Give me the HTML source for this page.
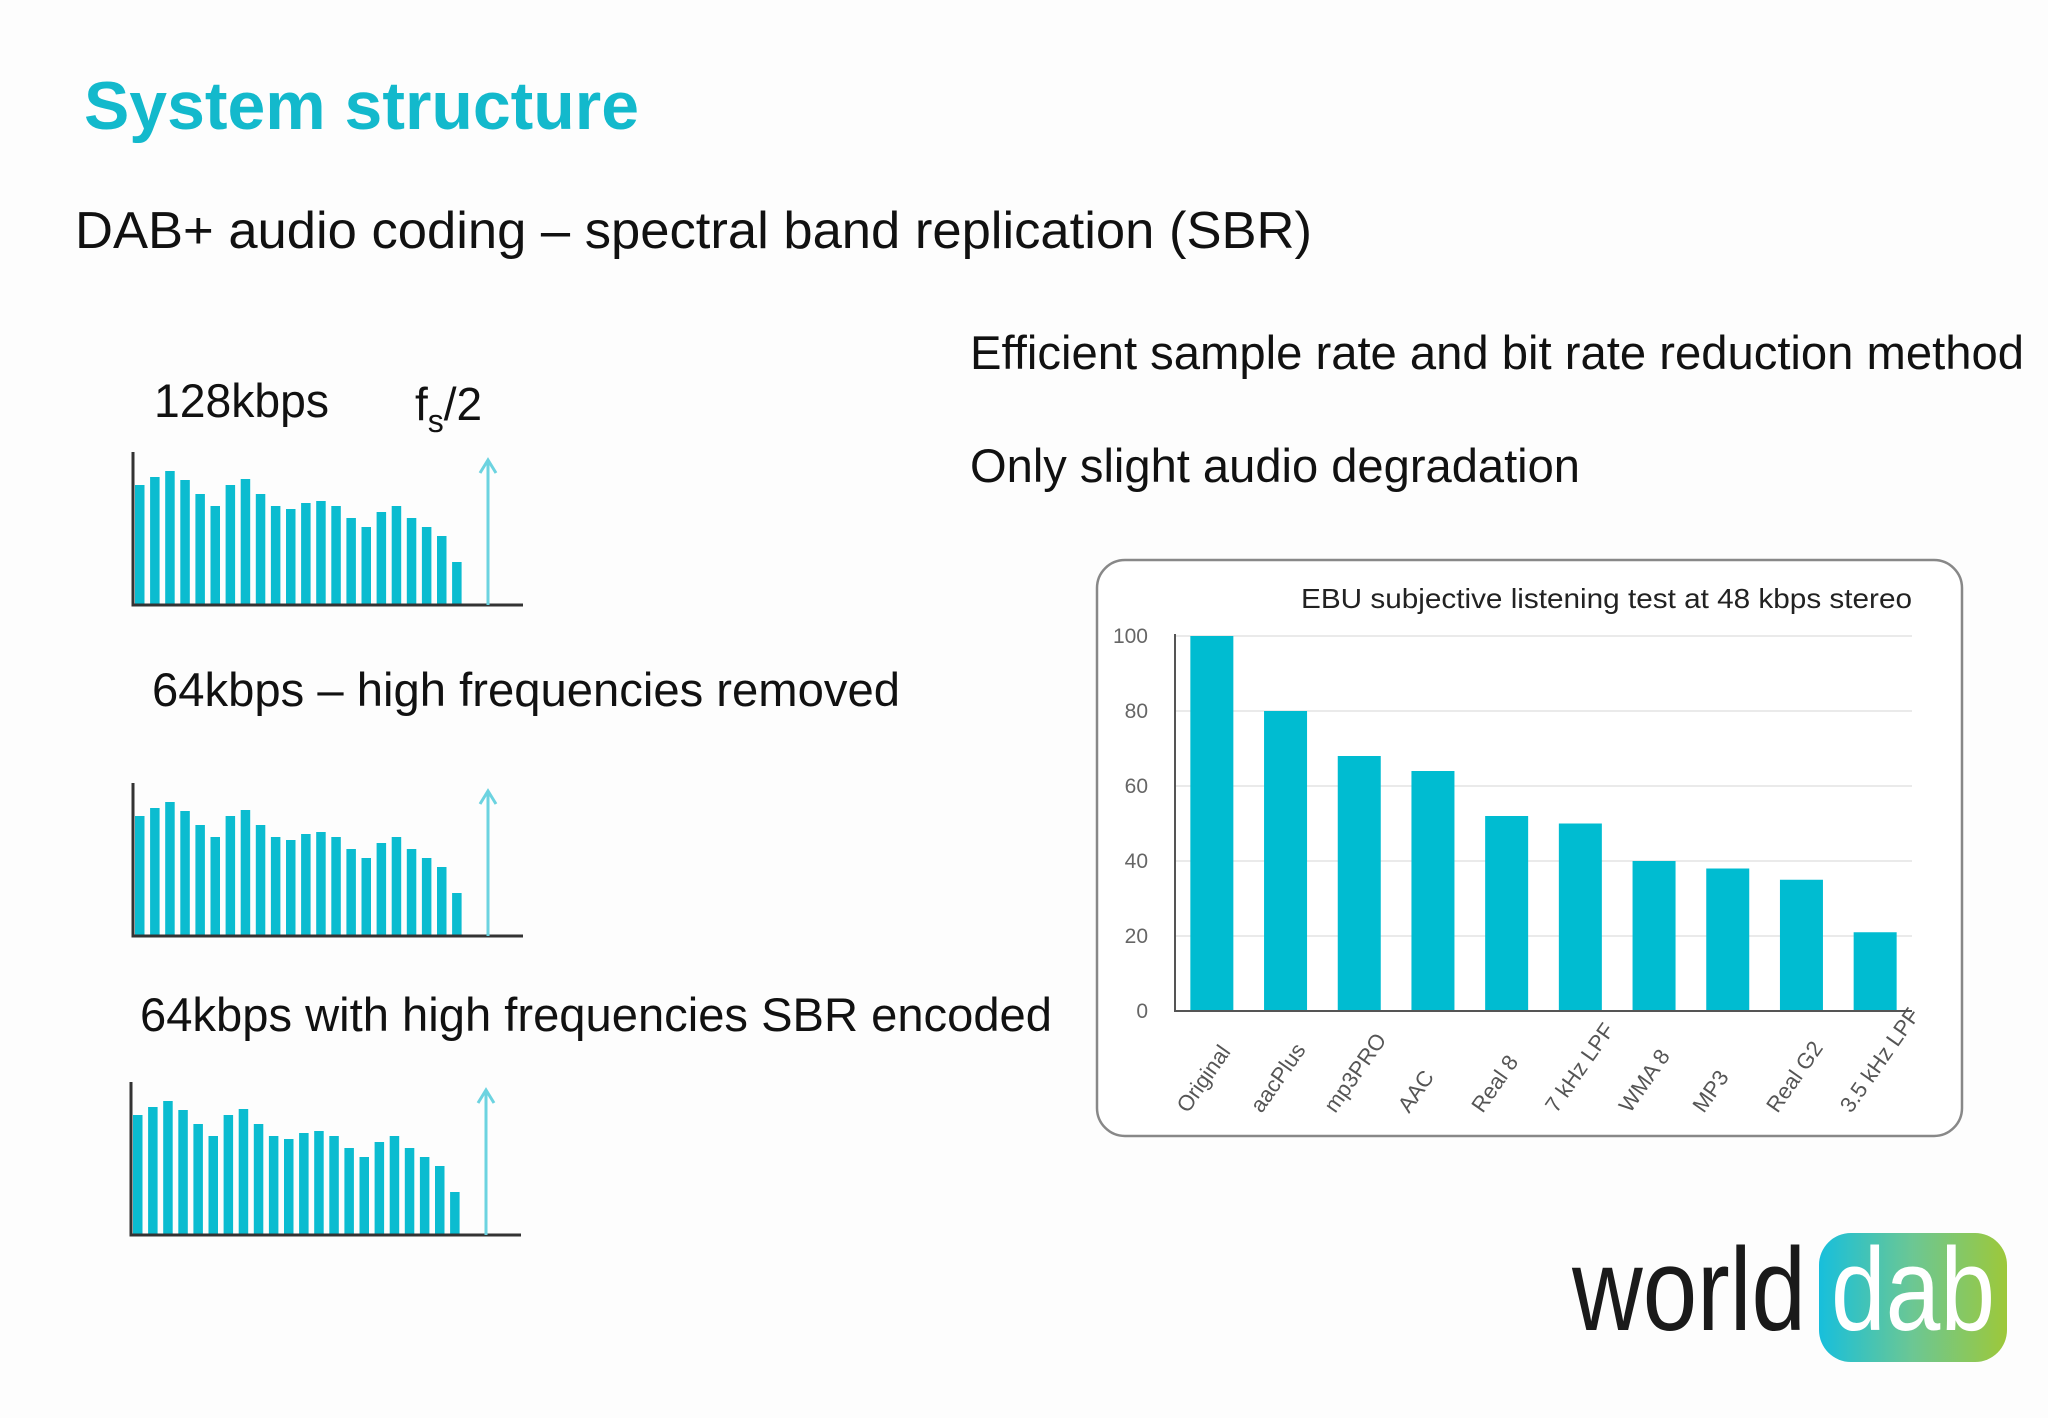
<!DOCTYPE html>
<html><head><meta charset="utf-8"><style>
html,body{margin:0;padding:0;background:#fdfdfd;}
svg{display:block;font-family:"Liberation Sans",sans-serif;}
</style></head><body>
<svg width="2048" height="1418" viewBox="0 0 2048 1418" xmlns="http://www.w3.org/2000/svg">
<rect width="2048" height="1418" fill="#fdfdfd"/>
<text x="84" y="129" font-size="68" font-weight="bold" fill="#13b9cc" textLength="555" lengthAdjust="spacingAndGlyphs">System structure</text>
<text x="75" y="248" font-size="52" fill="#111" textLength="1237" lengthAdjust="spacingAndGlyphs">DAB+ audio coding – spectral band replication (SBR)</text>
<text x="970" y="369" font-size="47" fill="#111" textLength="1054" lengthAdjust="spacingAndGlyphs">Efficient sample rate and bit rate reduction method</text>
<text x="970" y="482" font-size="47" fill="#111" textLength="610" lengthAdjust="spacingAndGlyphs">Only slight audio degradation</text>
<text x="154" y="417" font-size="47" fill="#111" textLength="175" lengthAdjust="spacingAndGlyphs">128kbps</text>
<text x="415" y="420" font-size="46" fill="#111">f<tspan font-size="32" dy="12">s</tspan><tspan dy="-12">/2</tspan></text>
<text x="152" y="706" font-size="47" fill="#111" textLength="748" lengthAdjust="spacingAndGlyphs">64kbps – high frequencies removed</text>
<text x="140" y="1031" font-size="47" fill="#111" textLength="912" lengthAdjust="spacingAndGlyphs">64kbps with high frequencies SBR encoded</text>
<g id="spectra"></g>
<g id="chart">
<rect x="1097" y="560" width="865" height="576" rx="28" fill="#fff" stroke="#888" stroke-width="2.5"/>
<text x="1912" y="608" font-size="28" text-anchor="end" fill="#222" textLength="611" lengthAdjust="spacingAndGlyphs">EBU subjective listening test at 48 kbps stereo</text>
</g>
<g>
<text x="1572" y="1330" font-size="118" fill="#1a1a1a" textLength="234" lengthAdjust="spacingAndGlyphs">world</text>
<defs><linearGradient id="lg" x1="0" x2="1"><stop offset="0" stop-color="#17bfdc"/><stop offset="0.5" stop-color="#6cc793"/><stop offset="1" stop-color="#9dc83a"/></linearGradient></defs>
<rect x="1819" y="1233" width="188" height="129" rx="32" fill="url(#lg)"/>
<text x="1913" y="1330" font-size="118" fill="#fff" text-anchor="middle" textLength="164" lengthAdjust="spacingAndGlyphs">dab</text>
</g>
</svg>
<script>
const specHeights=[120,128,134,125,111,99,120,126,111,99,96,102,104,99,87,78,93,99,87,78,69,43];
const categories=["Original","aacPlus","mp3PRO","AAC","Real 8","7 kHz LPF","WMA 8","MP3","Real G2","3.5 kHz LPF"];
const scores=[100,80,68,64,52,50,40,38,35,21];
const yTicks=[0,20,40,60,80,100];
const NS="http://www.w3.org/2000/svg";
function mk(tag,attrs,parent){const e=document.createElementNS(NS,tag);for(const k in attrs)e.setAttribute(k,attrs[k]);parent.appendChild(e);return e;}
const sp=document.getElementById('spectra');
const specBases=[[133,605],[133,936],[131,1235]];
specBases.forEach((b,si)=>{
  const g=mk('g',{},sp);
  
  
  specHeights.forEach((h,i)=>{
    const r=mk('rect',{x:b[0]+2+i*15.1,y:b[1]-h,width:9.5,height:h,fill:'#0bbcd0'},g);
    
    
  });
  const ax=mk('path',{d:`M${b[0]} ${b[1]-153}V${b[1]}H${b[0]+390}`,stroke:'#333',fill:'none','stroke-width':3},g);
  
  
  const ar=mk('path',{d:`M${b[0]+355} ${b[1]}V${b[1]-145}M${b[0]+347} ${b[1]-132}L${b[0]+355} ${b[1]-145}L${b[0]+363} ${b[1]-132}`,stroke:'#6cd3e0',fill:'none','stroke-width':3},g);
  
  
});
const ch=document.getElementById('chart');
const x0=1175,x1=1912,yb=1011,yt=636;
const yS=v=>yb-(v/100)*(yb-yt);
const step=(x1-x0)/categories.length;
const xC=i=>x0+step*(i+0.5);
yTicks.forEach(t=>{
  if(t>0){const l=mk('line',{x1:x0,x2:x1,y1:yS(t),y2:yS(t),stroke:'#e4e4e4','stroke-width':1.5},ch);
  
  }
  const tx=mk('text',{x:1148,y:yS(t)+7,'font-size':21,fill:'#666','text-anchor':'end'},ch);
  tx.textContent=t;
  
  
});
scores.forEach((v,i)=>{
  const r=mk('rect',{x:xC(i)-21.5,y:yS(v),width:43,height:yb-yS(v),fill:'#00bcd1'},ch);
  
  
  const lx=xC(i)-24,ly=1114;
  const lb=mk('text',{x:lx,y:ly,'font-size':22,fill:'#555','text-anchor':'start',transform:`rotate(-55 ${lx} ${ly})`},ch);
  lb.textContent=categories[i];
  
  
});
const axis=mk('path',{d:`M${x0} ${yt-2}V${yb}H${x1}`,stroke:'#555',fill:'none','stroke-width':2},ch);


</script>
</body></html>
